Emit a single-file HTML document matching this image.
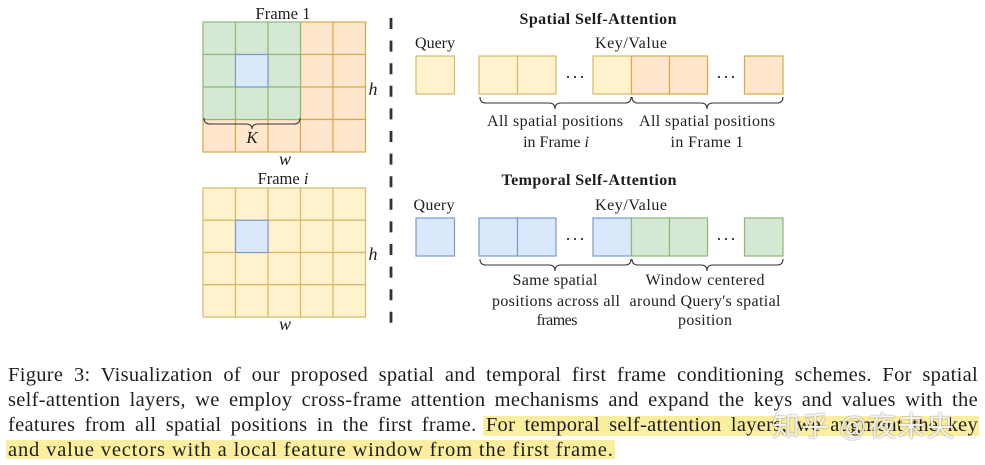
<!DOCTYPE html>
<html>
<head>
<meta charset="utf-8">
<style>
  html, body { margin:0; padding:0; background:#fff; }
  #wrap { position:relative; width:985px; height:465px; overflow:hidden; background:#fff; }
  svg { position:absolute; left:0; top:0; }
  .cap { position:absolute; left:8px; width:970px; font-family:"Liberation Serif", serif; font-size:20.5px; letter-spacing:0.85px; line-height:25px; color:#1e1e1e; white-space:nowrap; }
  .j { text-align:justify; text-align-last:justify; white-space:normal; letter-spacing:0.3px; }
  .hl { position:absolute; background:#fbee9f; }
  .wm { position:absolute; left:772px; top:405px; font-family:"Liberation Sans","Noto Sans CJK SC",sans-serif; font-size:28px; color:rgba(255,255,255,0.9); text-shadow:0 0 1px rgba(0,0,0,0.45), 0 0 2px rgba(0,0,0,0.2); white-space:nowrap; letter-spacing:1px; }
</style>
</head>
<body>
<div id="wrap">
<svg width="985" height="355" viewBox="0 0 985 355" xmlns="http://www.w3.org/2000/svg" font-family="Liberation Serif, serif" fill="#1e1e1e">
  <g stroke-width="1.2">
    <g fill="#ffe6cc" stroke="#d7a94a">
      <rect x="300.5" y="22" width="32.5" height="32.5"/>
      <rect x="333" y="22" width="32.5" height="32.5"/>
      <rect x="300.5" y="54.5" width="32.5" height="32.5"/>
      <rect x="333" y="54.5" width="32.5" height="32.5"/>
      <rect x="300.5" y="87" width="32.5" height="32.5"/>
      <rect x="333" y="87" width="32.5" height="32.5"/>
      <rect x="203" y="119.5" width="32.5" height="32.5"/>
      <rect x="235.5" y="119.5" width="32.5" height="32.5"/>
      <rect x="268" y="119.5" width="32.5" height="32.5"/>
      <rect x="300.5" y="119.5" width="32.5" height="32.5"/>
      <rect x="333" y="119.5" width="32.5" height="32.5"/>
    </g>
    <g fill="#d5e8d4" stroke="#8fb878">
      <rect x="203" y="22" width="32.5" height="32.5"/>
      <rect x="235.5" y="22" width="32.5" height="32.5"/>
      <rect x="268" y="22" width="32.5" height="32.5"/>
      <rect x="203" y="54.5" width="32.5" height="32.5"/>
      <rect x="268" y="54.5" width="32.5" height="32.5"/>
      <rect x="203" y="87" width="32.5" height="32.5"/>
      <rect x="235.5" y="87" width="32.5" height="32.5"/>
      <rect x="268" y="87" width="32.5" height="32.5"/>
    </g>
    <rect x="235.5" y="54.5" width="32.5" height="32.5" fill="#dae8fc" stroke="#7d9ac6"/>
  </g>
  <path d="M204 118 Q204 124 210 124 L246 124 Q252 124 252 129 Q252 124 258 124 L294 124 Q300 124 300 118" fill="none" stroke="#333" stroke-width="1.1"/>
  <text x="252" y="143" font-size="17" font-style="italic" text-anchor="middle">K</text>
  <text x="283" y="19" font-size="16.5" text-anchor="middle" textLength="55">Frame 1</text>
  <text x="373" y="95" font-size="18" font-style="italic" text-anchor="middle">h</text>
  <text x="285" y="165" font-size="18" font-style="italic" text-anchor="middle">w</text>

  <g fill="#fff2cc" stroke="#d6b96a" stroke-width="1.2">
    <rect x="203" y="188" width="32.5" height="32.25"/><rect x="235.5" y="188" width="32.5" height="32.25"/><rect x="268" y="188" width="32.5" height="32.25"/><rect x="300.5" y="188" width="32.5" height="32.25"/><rect x="333" y="188" width="32.5" height="32.25"/>
    <rect x="203" y="220.25" width="32.5" height="32.25"/><rect x="268" y="220.25" width="32.5" height="32.25"/><rect x="300.5" y="220.25" width="32.5" height="32.25"/><rect x="333" y="220.25" width="32.5" height="32.25"/>
    <rect x="203" y="252.5" width="32.5" height="32.25"/><rect x="235.5" y="252.5" width="32.5" height="32.25"/><rect x="268" y="252.5" width="32.5" height="32.25"/><rect x="300.5" y="252.5" width="32.5" height="32.25"/><rect x="333" y="252.5" width="32.5" height="32.25"/>
    <rect x="203" y="284.75" width="32.5" height="32.25"/><rect x="235.5" y="284.75" width="32.5" height="32.25"/><rect x="268" y="284.75" width="32.5" height="32.25"/><rect x="300.5" y="284.75" width="32.5" height="32.25"/><rect x="333" y="284.75" width="32.5" height="32.25"/>
  </g>
  <rect x="235.5" y="220.25" width="32.5" height="32.25" fill="#dae8fc" stroke="#7d9ac6" stroke-width="1.2"/>
  <text x="283" y="184" font-size="16.5" text-anchor="middle">Frame <tspan font-style="italic">i</tspan></text>
  <text x="373" y="260" font-size="18" font-style="italic" text-anchor="middle">h</text>
  <text x="285" y="330" font-size="18" font-style="italic" text-anchor="middle">w</text>

  <line x1="391" y1="18" x2="391" y2="324" stroke="#333" stroke-width="2.8" stroke-dasharray="11,11.6"/>

  <text x="598" y="24" font-size="16" font-weight="bold" text-anchor="middle" textLength="157">Spatial Self-Attention</text>
  <text x="435" y="48" font-size="16" text-anchor="middle" textLength="40">Query</text>
  <text x="631" y="48" font-size="16" text-anchor="middle" textLength="72">Key/Value</text>
  <g stroke-width="1.2">
    <rect x="416" y="56" width="38.5" height="38" fill="#fff2cc" stroke="#d6b96a"/>
    <rect x="479" y="56" width="38.5" height="38" fill="#fff2cc" stroke="#d6b96a"/>
    <rect x="517.5" y="56" width="38.5" height="38" fill="#fff2cc" stroke="#d6b96a"/>
    <rect x="593" y="56" width="38.5" height="38" fill="#fff2cc" stroke="#d6b96a"/>
    <rect x="631.5" y="56" width="38" height="38" fill="#ffe6cc" stroke="#d7a94a"/>
    <rect x="669.5" y="56" width="38" height="38" fill="#ffe6cc" stroke="#d7a94a"/>
    <rect x="744.5" y="56" width="38.5" height="38" fill="#ffe6cc" stroke="#d7a94a"/>
  </g>
  <g fill="#333">
    <circle cx="568" cy="77" r="1.1"/><circle cx="575" cy="77" r="1.1"/><circle cx="582" cy="77" r="1.1"/>
    <circle cx="719" cy="77" r="1.1"/><circle cx="726" cy="77" r="1.1"/><circle cx="733" cy="77" r="1.1"/>
  </g>
  <path d="M480 97 Q480 103 486 103 L549 103 Q555 103 555 109 Q555 103 561 103 L625 103 Q631 103 631 97" fill="none" stroke="#333" stroke-width="1.1"/>
  <path d="M632 97 Q632 103 638 103 L701 103 Q707 103 707 109 Q707 103 713 103 L777 103 Q783 103 783 97" fill="none" stroke="#333" stroke-width="1.1"/>
  <text x="555" y="126" font-size="16" text-anchor="middle" textLength="136">All spatial positions</text>
  <text x="556" y="147" font-size="16" text-anchor="middle">in Frame <tspan font-style="italic">i</tspan></text>
  <text x="707" y="126" font-size="16" text-anchor="middle" textLength="136">All spatial positions</text>
  <text x="707" y="147" font-size="16" text-anchor="middle" textLength="73">in Frame 1</text>

  <text x="589" y="185" font-size="16" font-weight="bold" text-anchor="middle" textLength="175">Temporal Self-Attention</text>
  <text x="434" y="210" font-size="16" text-anchor="middle" textLength="41">Query</text>
  <text x="631" y="210" font-size="16" text-anchor="middle" textLength="72">Key/Value</text>
  <g stroke-width="1.2">
    <rect x="416" y="218" width="38.5" height="38" fill="#dae8fc" stroke="#7d9ac6"/>
    <rect x="479" y="218" width="38.5" height="38" fill="#dae8fc" stroke="#7d9ac6"/>
    <rect x="517.5" y="218" width="38.5" height="38" fill="#dae8fc" stroke="#7d9ac6"/>
    <rect x="593" y="218" width="38.5" height="38" fill="#dae8fc" stroke="#7d9ac6"/>
    <rect x="631.5" y="218" width="38" height="38" fill="#d5e8d4" stroke="#8fb878"/>
    <rect x="669.5" y="218" width="38" height="38" fill="#d5e8d4" stroke="#8fb878"/>
    <rect x="744.5" y="218" width="38.5" height="38" fill="#d5e8d4" stroke="#8fb878"/>
  </g>
  <g fill="#333">
    <circle cx="568" cy="239" r="1.1"/><circle cx="575" cy="239" r="1.1"/><circle cx="582" cy="239" r="1.1"/>
    <circle cx="719" cy="239" r="1.1"/><circle cx="726" cy="239" r="1.1"/><circle cx="733" cy="239" r="1.1"/>
  </g>
  <path d="M480 259 Q480 265 486 265 L549 265 Q555 265 555 271 Q555 265 561 265 L625 265 Q631 265 631 259" fill="none" stroke="#333" stroke-width="1.1"/>
  <path d="M632 259 Q632 265 638 265 L701 265 Q707 265 707 271 Q707 265 713 265 L777 265 Q783 265 783 259" fill="none" stroke="#333" stroke-width="1.1"/>
  <text x="555" y="285" font-size="16" text-anchor="middle" textLength="85">Same spatial</text>
  <text x="556" y="306" font-size="16" text-anchor="middle" textLength="128">positions across all</text>
  <text x="557" y="325" font-size="16" text-anchor="middle" textLength="41">frames</text>
  <text x="705" y="285" font-size="16" text-anchor="middle" textLength="119">Window centered</text>
  <text x="705" y="306" font-size="16" text-anchor="middle" textLength="151">around Query's spatial</text>
  <text x="705" y="325" font-size="16" text-anchor="middle" textLength="54">position</text>
</svg>

<div class="hl" style="left:483px; top:416px; width:496px; height:20px;"></div>
<div class="hl" style="left:6px; top:440px; width:609px; height:19px;"></div>

<div class="cap j" style="top:363px;">Figure 3: Visualization of our proposed spatial and temporal first frame conditioning schemes. For spatial</div>
<div class="cap j" style="top:388px;">self-attention layers, we employ cross-frame attention mechanisms and expand the keys and values with the</div>
<div class="cap j" style="top:413px;">features from all spatial positions in the first frame. For temporal self-attention layers, we augment the key</div>
<div class="cap" style="top:438px;">and value vectors with a local feature window from the first frame.</div>

<div class="wm">知乎 @夜未央</div>
</div>
</body>
</html>
